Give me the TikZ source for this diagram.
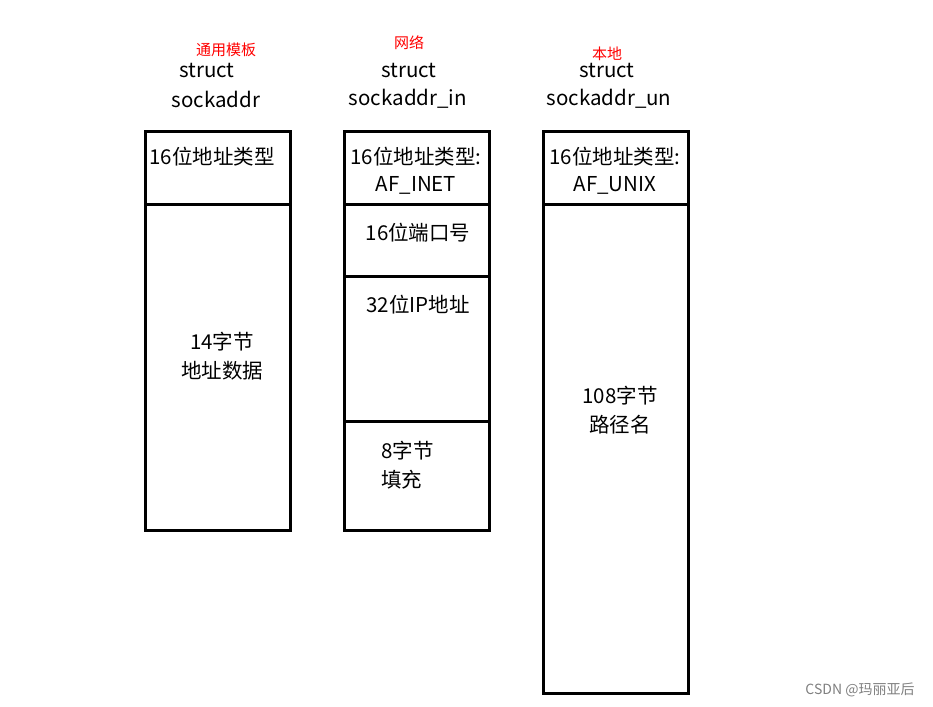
\documentclass[tikz,border=0pt]{standalone}
\usepackage{fontspec}
\setmainfont{Noto Sans CJK SC}
\begin{document}
\begin{tikzpicture}[x=1pt,y=-1pt,
  box/.style={draw=black,line width=3pt},
  txt/.style={font=\fontsize{20.5}{23}\selectfont,inner sep=0pt},
  red/.style={font=\fontsize{15}{17}\selectfont,text=red,inner sep=0pt}]
\useasboundingbox[fill=white] (0,0) rectangle (933,706);
\draw[box] (145,131) rectangle (290,530);
\draw[box] (145,204) -- (290,204);
\draw[box] (344,131) rectangle (489,530);
\draw[box] (344,204) -- (489,204);
\draw[box] (344,276) -- (489,276);
\draw[box] (344,421) -- (489,421);
\draw[box] (543,131) rectangle (688,693);
\draw[box] (543,204) -- (688,204);
% headers
\node[red] (h1) at (226,50) {通用模板};
\node[txt] (s1) at (207,70) {struct};
\node[txt] (n1) at (216,99) {sockaddr};
\node[red] (h2) at (409,43) {网络};
\node[txt] (s2) at (409,70) {struct};
\node[txt] (n2) at (408,99) {sockaddr\_in};
\node[red] (h3) at (607,54) {本地};
\node[txt] (s3) at (607,70) {struct};
\node[txt] (n3) at (609,99) {sockaddr\_un};
% box 1
\node[txt] (a1) at (212,157) {16位地址类型};
\node[txt] (a2) at (222,342) {14字节};
\node[txt] (a3) at (222,371) {地址数据};
% box 2
\node[txt] (b1) at (416,157) {16位地址类型:};
\node[txt] (b2) at (416,185) {AF\_INET};
\node[txt] (b3) at (418,233) {16位端口号};
\node[txt] (b4) at (418,305) {32位IP地址};
\node[txt,anchor=west] (b5) at (381,451) {8字节};
\node[txt,anchor=west] (b6) at (381,480) {填充};
% box 3
\node[txt] (c1) at (615,157) {16位地址类型:};
\node[txt] (c2) at (615,185) {AF\_UNIX};
\node[txt] (c3) at (620,396) {108字节};
\node[txt] (c4) at (620,425) {路径名};
\node[font=\fontsize{14}{16}\selectfont,text=gray,inner sep=0pt] (w) at (860,690) {CSDN @玛丽亚后};
\end{tikzpicture}
\end{document}
